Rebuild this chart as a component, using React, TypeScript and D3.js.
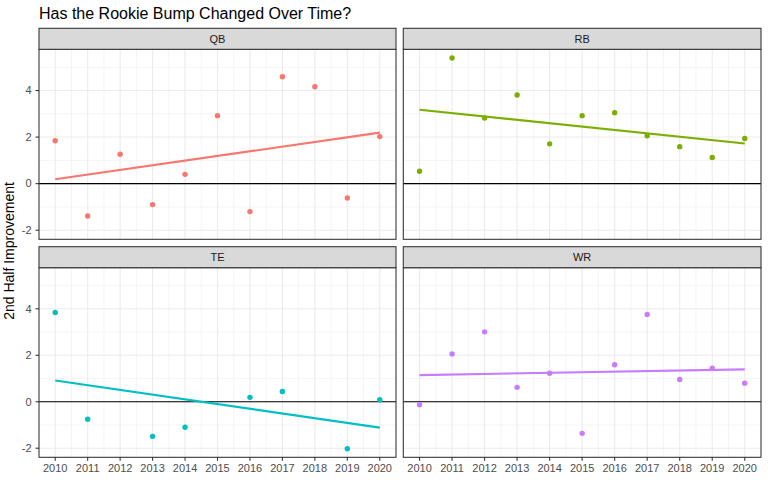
import React from 'react';
import * as d3 from 'd3';

const years = [2010, 2011, 2012, 2013, 2014, 2015, 2016, 2017, 2018, 2019, 2020];
const qbValues = [1.84, -1.39, 1.26, -0.9, 0.4, 2.92, -1.2, 4.59, 4.16, -0.62, 2.02];
const rbValues = [0.53, 5.4, 2.82, 3.81, 1.71, 2.92, 3.05, 2.06, 1.59, 1.12, 1.94];
const teYears = [2010, 2011, 2013, 2014, 2016, 2017, 2019, 2020];
const teValues = [3.84, -0.75, -1.49, -1.1, 0.19, 0.44, -2.02, 0.09];
const wrValues = [-0.13, 2.06, 3.01, 0.62, 1.23, -1.36, 1.59, 3.76, 0.96, 1.45, 0.8];
const positions = ['QB', 'RB', 'TE', 'WR'];
const colors = ['#F8766D', '#7CAE00', '#00BFC4', '#C77CFF'];
const yTicks = [-2, 0, 2, 4];
const yMinor = [-1, 1, 3, 5];
const xTicks = years;

const title = 'Has the Rookie Bump Changed Over Time?';
const yTitle = '2nd Half Improvement';

type Pt = { x: number; y: number };

const seriesData: Pt[][] = [
  years.map((x, i) => ({ x, y: qbValues[i] })),
  years.map((x, i) => ({ x, y: rbValues[i] })),
  teYears.map((x, i) => ({ x, y: teValues[i] })),
  years.map((x, i) => ({ x, y: wrValues[i] })),
];

const FONT = '"Liberation Sans", Arial, sans-serif';

function regression(pts: Pt[]) {
  const mx = d3.mean(pts, (p) => p.x)!;
  const my = d3.mean(pts, (p) => p.y)!;
  let sxy = 0, sxx = 0;
  pts.forEach((p) => { sxy += (p.x - mx) * (p.y - my); sxx += (p.x - mx) ** 2; });
  const b = sxy / sxx;
  const a = my - b * mx;
  const [x0, x1] = d3.extent(pts, (p) => p.x) as [number, number];
  return [{ x: x0, y: a + b * x0 }, { x: x1, y: a + b * x1 }];
}

const allY = seriesData.flat().map((p) => p.y);
const [yMinD, yMaxD] = d3.extent(allY) as [number, number];
const yPad = (yMaxD - yMinD) * 0.05;
const xMinD = 2010, xMaxD = 2020;
const xPad = (xMaxD - xMinD) * 0.05;

const cols = [[39, 396], [403.3, 761]];
const rows = [
  { stripTop: 28.3, top: 49.3, bottom: 239.3 },
  { stripTop: 246.7, top: 267.7, bottom: 457.3 },
];

function Panel({ idx }: { idx: number }) {
  const col = idx % 2;
  const row = Math.floor(idx / 2);
  const [left, right] = cols[col];
  const { stripTop, top, bottom } = rows[row];
  const x = d3.scaleLinear().domain([xMinD - xPad, xMaxD + xPad]).range([left, right]);
  const y = d3.scaleLinear().domain([yMinD - yPad, yMaxD + yPad]).range([bottom, top]);
  const pts = seriesData[idx];
  const reg = regression(pts);
  const line = d3.line<Pt>().x((d) => x(d.x)).y((d) => y(d.y));
  const xMinor = xTicks.slice(0, -1).map((t) => t + 0.5);
  const color = colors[idx];
  return (
    <g>
      <rect x={left} y={top} width={right - left} height={bottom - top} fill="#fff" />
      {yMinor.map((t) => (
        <line key={'ym' + t} x1={left} x2={right} y1={y(t)} y2={y(t)} stroke="#EBEBEB" strokeWidth={0.55} />
      ))}
      {xMinor.map((t) => (
        <line key={'xm' + t} x1={x(t)} x2={x(t)} y1={top} y2={bottom} stroke="#EBEBEB" strokeWidth={0.55} />
      ))}
      {yTicks.map((t) => (
        <line key={'y' + t} x1={left} x2={right} y1={y(t)} y2={y(t)} stroke="#EBEBEB" strokeWidth={1.07} />
      ))}
      {xTicks.map((t) => (
        <line key={'x' + t} x1={x(t)} x2={x(t)} y1={top} y2={bottom} stroke="#EBEBEB" strokeWidth={1.07} />
      ))}
      <line x1={left} x2={right} y1={y(0)} y2={y(0)} stroke="#000" strokeWidth={1.07} />
      {pts.map((p, i) => (
        <circle key={i} cx={x(p.x)} cy={y(p.y)} r={2.7} fill={color} />
      ))}
      <path d={line(reg)!} fill="none" stroke={color} strokeWidth={2.13} />
      <rect x={left} y={top} width={right - left} height={bottom - top} fill="none" stroke="#333333" strokeWidth={1.07} />
      <rect x={left} y={stripTop} width={right - left} height={top - stripTop} fill="#D9D9D9" stroke="#333333" strokeWidth={1.07} />
      <text x={(left + right) / 2} y={(stripTop + top) / 2} dy="0.35em" textAnchor="middle" fontSize={11} fill="#1A1A1A" fontFamily={FONT}>
        {positions[idx]}
      </text>
      {col === 0 &&
        yTicks.map((t) => (
          <g key={'yt' + t}>
            <line x1={left - 3.5} x2={left} y1={y(t)} y2={y(t)} stroke="#333333" strokeWidth={1.07} />
            <text x={left - 7.5} y={y(t)} dy="0.35em" textAnchor="end" fontSize={11} fill="#4D4D4D" fontFamily={FONT}>
              {t < 0 ? '-' + Math.abs(t) : t}
            </text>
          </g>
        ))}
      {row === 1 &&
        xTicks.map((t) => (
          <g key={'xt' + t}>
            <line x1={x(t)} x2={x(t)} y1={bottom} y2={bottom + 3.5} stroke="#333333" strokeWidth={1.07} />
            <text x={x(t)} y={bottom + 15} textAnchor="middle" fontSize={11} fill="#4D4D4D" fontFamily={FONT}>
              {t}
            </text>
          </g>
        ))}
    </g>
  );
}

export default function App() {
  return (
    <svg width={768} height={497} style={{ position: 'absolute', left: 0, top: 0, background: '#fff' }}>
      <rect width={768} height={497} fill="#fff" />
      <text x={39} y={18.5} fontSize={16} fill="#000" fontFamily={FONT}>{title}</text>
      <text transform="translate(14,251) rotate(-90)" textAnchor="middle" fontSize={14} fill="#000" fontFamily={FONT}>
        {yTitle}
      </text>
      {positions.map((_, i) => (
        <Panel key={i} idx={i} />
      ))}
    </svg>
  );
}
